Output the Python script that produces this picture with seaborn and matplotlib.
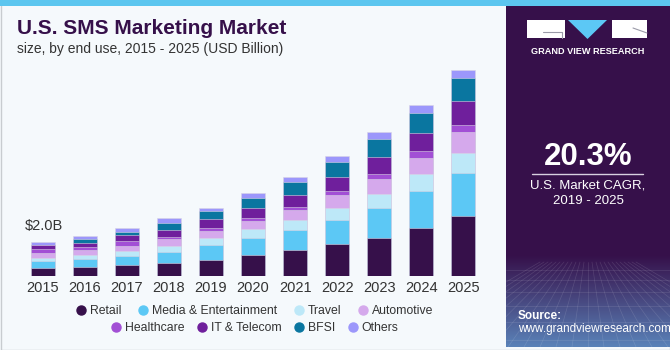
import matplotlib
matplotlib.use("Agg")
import matplotlib.pyplot as plt
import seaborn as sns
import numpy as np
import pandas as pd
from matplotlib.patches import Rectangle, Polygon
from matplotlib.lines import Line2D

# ---------------- data (USD Billion) ----------------
years = [2015, 2016, 2017, 2018, 2019, 2020, 2021, 2022, 2023, 2024, 2025]
segments = ["Retail", "Media & Entertainment", "Travel", "Automotive",
            "Healthcare", "IT & Telecom", "BFSI", "Others"]
retail     = [0.48, 0.54, 0.66, 0.74, 0.93, 1.21, 1.53, 1.85, 2.22, 2.82, 3.48]
media      = [0.37, 0.43, 0.51, 0.66, 0.87, 0.99, 1.13, 1.40, 1.75, 2.14, 2.52]
travel     = [0.21, 0.25, 0.31, 0.37, 0.39, 0.52, 0.62, 0.72, 0.83, 0.97, 1.17]
automotive = [0.29, 0.29, 0.29, 0.37, 0.43, 0.47, 0.54, 0.74, 0.86, 0.95, 1.21]
healthcare = [0.25, 0.16, 0.25, 0.12, 0.19, 0.17, 0.23, 0.22, 0.27, 0.39, 0.41]
it_telecom = [0.19, 0.25, 0.35, 0.41, 0.54, 0.58, 0.68, 0.83, 0.99, 1.07, 1.42]
bfsi       = [0.04, 0.25, 0.22, 0.43, 0.43, 0.60, 0.76, 0.87, 1.05, 1.18, 1.32]
others     = [0.17, 0.16, 0.23, 0.27, 0.19, 0.29, 0.29, 0.35, 0.41, 0.48, 0.51]

colors = ["#36104a", "#5cc8f5", "#bde8f8", "#d5a9ec",
          "#a24fd5", "#6f1f9c", "#0a76a0", "#9c97fb"]

title = "U.S. SMS Marketing Market"
subtitle = "size, by end use, 2015 - 2025 (USD Billion)"
cagr = "20.3%"

# ---------------- setup ----------------
sns.set_theme(style="white")
plt.rcParams['font.family'] = ['Liberation Sans', 'DejaVu Sans']

W, H = 670, 350
fig = plt.figure(figsize=(6.7, 3.5), dpi=100)
fig.patch.set_facecolor('#f5f9fc')

bg = fig.add_axes([0, 0, 1, 1], zorder=0)
bg.set_xlim(0, W); bg.set_ylim(H, 0); bg.axis('off')
bg.patch.set_alpha(0)

# frame + top stripe
bg.add_patch(Rectangle((0.5, 0.5), W - 1, H - 1, facecolor='none', edgecolor='#c8ccd0', lw=1))
bg.add_patch(Rectangle((0, 0), W, 5.5, color='#5cc6ef', lw=0))

# right panel
bg.add_patch(Rectangle((506, 5.5), 164, 341.5, color='#36104a', lw=0))
grad = np.linspace(0, 1, 100)[:, None]
c0 = np.array([0x36, 0x10, 0x4a]) / 255
c1 = np.array([0x5a, 0x82, 0xb8]) / 255
img = np.zeros((100, 1, 4))
img[..., :3] = c0 + (c1 - c0) * grad[..., None]
img[..., 3] = 1
bg.imshow(img, extent=[506, 670, 347, 255], aspect='auto', zorder=1)
bg.set_xlim(0, W); bg.set_ylim(H, 0)
# faint perspective grid
for k in range(-12, 13):
    bg.plot([588 + k * 4, 588 + k * 16], [262, 347], color='white', alpha=0.12, lw=0.5, zorder=2)
for yy in [270, 280, 292, 306, 322, 340]:
    bg.plot([506, 670], [yy, yy], color='white', alpha=0.12, lw=0.5, zorder=2)

# logo
bg.add_patch(Rectangle((527, 20), 38, 18, color='white', lw=0, zorder=3))
bg.plot([543, 562, 562], [32, 32, 38], color='#9a9aa8', lw=0.8, zorder=4)
bg.add_patch(Polygon([(568, 20), (607, 20), (587.5, 39)], closed=True, color='#5cc8f5', lw=0, zorder=3))
bg.add_patch(Rectangle((612, 20), 35, 18, color='white', lw=0, zorder=3))
bg.plot([633, 647], [28, 33], color='#9a9aa8', lw=0.8, zorder=4)
bg.text(587.5, 51, "GRAND VIEW RESEARCH", color='white', fontsize=6.6, fontweight='bold',
        ha='center', va='center', zorder=4)

bg.text(588, 157, cagr, color='white', fontsize=22.5, fontweight='bold', ha='center', va='center', zorder=4)
bg.plot([532, 643], [173.5, 173.5], color='#d8d0e0', lw=1, zorder=4)
bg.text(588, 186, "U.S. Market CAGR,", color='white', fontsize=9.5, ha='center', va='center', zorder=4)
bg.text(588, 201, "2019 - 2025", color='white', fontsize=9.5, ha='center', va='center', zorder=4)
bg.text(518, 316, "Source:", color='white', fontsize=8.5, fontweight='bold', ha='left', va='center', zorder=4)
bg.text(518, 329, "www.grandviewresearch.com", color='white', fontsize=8.5, ha='left', va='center', zorder=4)

# titles
bg.text(17, 29, title, color='#36104a', fontsize=15, fontweight='bold', ha='left', va='center')
bg.text(17, 49, subtitle, color='#333333', fontsize=10, ha='left', va='center')

# ---------------- bars ----------------
df = pd.DataFrame({"Year": [str(y) for y in years], "Retail": retail,
                   "Media & Entertainment": media, "Travel": travel,
                   "Automotive": automotive, "Healthcare": healthcare,
                   "IT & Telecom": it_telecom, "BFSI": bfsi, "Others": others})
cum = df[segments].cumsum(axis=1)
cum["Year"] = df["Year"]

px_per_b = 17.15
ax = fig.add_axes([21.5 / W, (H - 276) / H, 463 / W, 12.5 * px_per_b / H], zorder=2)
ax.patch.set_alpha(0)
for seg, col in reversed(list(zip(segments, colors))):
    sns.barplot(data=cum, x="Year", y=seg, color=col, saturation=1, width=0.57,
                errorbar=None, ax=ax, edgecolor='#d9d4e4', linewidth=0.4)
ax.set_xlim(-0.5, 10.5)
ax.set_ylim(0, 12.5)
ax.set_xlabel(""); ax.set_ylabel("")
ax.set_yticks([])
for s in ax.spines.values():
    s.set_visible(False)
ax.tick_params(axis='x', length=0, pad=3.5, labelsize=10.5, labelcolor='#333333')

total0 = cum["Others"].iloc[0]
ax.annotate(f"${total0:.1f}B", xy=(0, total0), xytext=(1, 11.5), textcoords='offset points',
            ha='center', va='center', fontsize=10.5, color='#333333')

# ---------------- legend ----------------
def handles(idx):
    return [Line2D([], [], marker='o', linestyle='none', markersize=6.5,
                   markerfacecolor=colors[i], markeredgecolor=colors[i]) for i in idx]

kw = dict(frameon=False, ncol=4, fontsize=8.8, handletextpad=0.2, labelcolor='#333333',
          handlelength=1.0, borderaxespad=0, borderpad=0)
fig.legend(handles([0, 1, 2, 3]), segments[0:4], loc='center',
           bbox_to_anchor=(254 / W, (H - 311) / H), columnspacing=1.3, **kw)
fig.legend(handles([4, 5, 6, 7]), segments[4:8], loc='center',
           bbox_to_anchor=(254 / W, (H - 328) / H), columnspacing=0.95, **kw)

fig.savefig("out.png", dpi=100, facecolor=fig.get_facecolor())
